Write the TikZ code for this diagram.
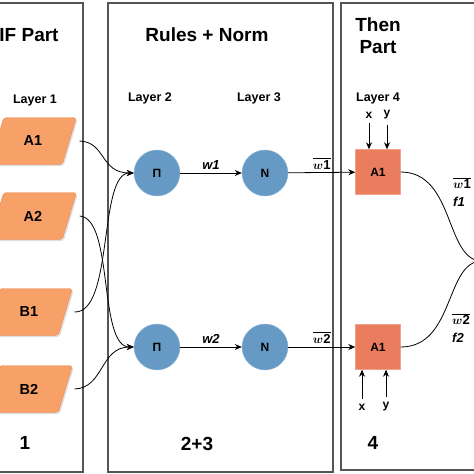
\documentclass[tikz,border=0pt]{standalone}
\usepackage{amsmath}
\usepackage{amssymb}
\usepackage{xcolor}
\usepackage{fontspec}
\setmainfont{Liberation Sans}
\usetikzlibrary{shapes.geometric,shadows,positioning,arrows.meta}

\definecolor{ifcol}{HTML}{F7A068}
\definecolor{ifdraw}{HTML}{EE8A52}
\definecolor{rulecol}{HTML}{6699C4}
\definecolor{ruledraw}{HTML}{8DB9DC}
\definecolor{thencol}{HTML}{E97D5E}
\definecolor{thendraw}{HTML}{F2A48A}
\definecolor{framecol}{HTML}{555555}

\begin{document}
\begin{tikzpicture}[x=1pt,y=-1pt,
    part/.style={draw=framecol, line width=1.3pt},
    title/.style={font=\fontsize{19}{22}\selectfont\bfseries, align=center},
    layer/.style={font=\fontsize{12.5}{14}\selectfont\bfseries},
    num/.style={font=\fontsize{19}{20}\selectfont\bfseries},
    mf/.style={trapezium, trapezium left angle=70, trapezium right angle=110, trapezium stretches=true,
        fill=ifcol, draw=ifdraw, rounded corners=3pt, minimum width=87pt, minimum height=47pt,
        font=\fontsize{14.5}{16}\selectfont\bfseries,
        drop shadow={shadow xshift=1.5pt, shadow yshift=-1.5pt, fill=gray!50}},
    rulenode/.style={circle, fill=rulecol, draw=ruledraw, minimum size=46pt, inner sep=0pt,
        font=\fontsize{12}{13}\selectfont\bfseries},
    conseq/.style={rectangle, fill=thencol, draw=thendraw, minimum size=45pt, inner sep=0pt,
        font=\fontsize{12}{13}\selectfont\bfseries},
    var/.style={font=\fontsize{12}{13}\selectfont\bfseries, inner sep=2pt},
    wlab/.style={font=\fontsize{13}{14}\selectfont\bfseries\itshape, inner sep=3pt},
    wire/.style={line width=0.8pt, -{Stealth[length=7pt,width=6pt]}},
    curve/.style={line width=0.8pt}]

    \clip (0,0) rectangle (474,474);

    \draw[part] (-10,3) rectangle (83,472);
    \draw[part] (108,3) rectangle (333,472);
    \draw[part] (341,3) rectangle (490,470);

    \node (iftitle) [title] at (29,35) {IF Part};
    \node (rtitle) [title] at (207,35) {Rules + Norm};
    \node (ttitle) [title] at (378,36) {Then\\Part};

    \node (lay1) [layer] at (35,100) {Layer 1};
    \node (lay2) [layer] at (150,98) {Layer 2};
    \node (lay3) [layer] at (259,98) {Layer 3};
    \node (lay4) [layer] at (378,98) {Layer 4};

    \node (A1) [mf] at (33,141) {A1};
    \node (A2) [mf] at (33,216) {A2};
    \node (B1) [mf] at (29,312) {B1};
    \node (B2) [mf] at (29,389) {B2};

    \node (P1) [rulenode] at (157,173) {Π};
    \node (N1) [rulenode] at (265,173) {N};
    \node (P2) [rulenode] at (157,347) {Π};
    \node (N2) [rulenode] at (265,347) {N};

    \node (S1) [conseq] at (378,172) {A1};
    \node (S2) [conseq] at (378,347) {A1};

    \node (xa) [var] at (369,115) {x};
    \node (ya) [var] at (387,115) {y};
    \node (xb) [var] at (362,407) {x};
    \node (yb) [var] at (386,407) {y};

    \node (one) [num] at (25,443) {1};
    \node (two) [num] at (197,444) {2+3};
    \node (four) [num] at (373,443) {4};

    \coordinate (sum) at (482,261);

    \draw[wire] ([xshift=10pt]A1.east) .. controls (106,142) and (100,173) .. (P1);
    \draw[wire] ([xshift=10pt]A2.east) .. controls (114,218) and (98,347) .. (P2);
    \draw[wire] ([xshift=9pt]B1.east) .. controls (114,313) and (98,173) .. (P1);
    \draw[wire] ([xshift=9pt]B2.east) .. controls (104,388) and (100,347) .. (P2);

    \draw[wire] (P1) -- node[above, wlab] {w1} (N1);
    \draw[wire] (P2) -- node[above, wlab] {w2} (N2);
    \draw[wire] (N1) -- node[above, wlab] {$\overline{\boldsymbol{w}\mathbf{1}}$} (S1);
    \draw[wire] (N2) -- node[above, wlab] {$\overline{\boldsymbol{w}\mathbf{2}}$} (S2);

    \draw[wire, shorten <=3pt] (xa) -- (xa |- S1.north);
    \draw[wire, shorten <=3pt] (ya) -- (ya |- S1.north);
    \draw[wire, shorten <=3pt] (xb) -- (xb |- S2.south);
    \draw[wire, shorten <=3pt] (yb) -- (yb |- S2.south);

    \draw[curve] (S1.east) .. controls (455,172) and (445,261) .. (sum);
    \draw[curve] (S2.east) .. controls (455,347) and (445,261) .. (sum);

    \node (wf1) [wlab, anchor=west, align=left] at (450,192) {$\overline{\boldsymbol{w}\mathbf{1}}$\\[4pt]f1};
    \node (wf2) [wlab, anchor=west, align=left] at (449,328) {$\overline{\boldsymbol{w}\mathbf{2}}$\\[4pt]f2};
\end{tikzpicture}
\end{document}
